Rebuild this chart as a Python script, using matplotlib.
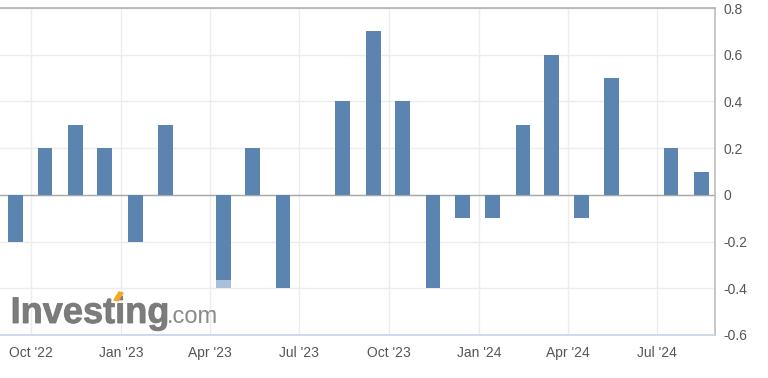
import matplotlib
matplotlib.use("Agg")
import matplotlib.pyplot as plt
import pandas as pd
from matplotlib.textpath import TextPath
from matplotlib.patches import PathPatch
from matplotlib.font_manager import FontProperties
from matplotlib.transforms import Affine2D

plt.rcParams['font.family'] = ['Liberation Sans', 'DejaVu Sans']

months = pd.date_range('2022-09-01', '2024-08-01', freq='MS')
values = [-0.2, 0.2, 0.3, 0.2, -0.2, 0.3, 0.0, -0.4, 0.2, -0.4, 0.0, 0.4,
          0.7, 0.4, -0.4, -0.1, -0.1, 0.3, 0.6, -0.1, 0.5, 0.0, 0.2, 0.1]
# Apr '23: darker part of the bar (rest drawn lighter)
apr23_dark = -0.365

yticks = [0.8, 0.6, 0.4, 0.2, 0, -0.2, -0.4, -0.6]
ytick_labels = ['0.8', '0.6', '0.4', '0.2', '0', '-0.2', '-0.4', '-0.6']
xtick_dates = pd.to_datetime(['2022-10-01', '2023-01-01', '2023-04-01', '2023-07-01',
                              '2023-10-01', '2024-01-01', '2024-04-01', '2024-07-01'])
xtick_labels = ["Oct '22", "Jan '23", "Apr '23", "Jul '23",
                "Oct '23", "Jan '24", "Apr '24", "Jul '24"]

bar_col = '#5b84b1'
light_col = '#a9c0da'
W, H = 768, 378

fig = plt.figure(figsize=(7.68, 3.78), dpi=100)
ax = fig.add_axes([0.0, 1 - 335 / H, 715 / W, (335 - 8) / H])

centers = months + pd.Timedelta(days=14)
colors = [bar_col] * len(values)
apr_i = list(months).index(pd.Timestamp('2023-04-01'))
colors[apr_i] = light_col
ax.bar(centers, values, width=15, color=colors, zorder=3)
ax.bar(centers[apr_i], apr23_dark, width=15, color=bar_col, zorder=4)

ax.set_xlim(pd.Timestamp('2022-08-30'), pd.Timestamp('2024-08-29'))
ax.set_ylim(-0.6, 0.8)

ax.set_yticks(yticks)
ax.set_yticklabels(ytick_labels)
ax.yaxis.tick_right()
ax.set_xticks(xtick_dates)
ax.set_xticklabels(xtick_labels)
ax.tick_params(axis='both', length=0, labelsize=10, colors='#555555')
ax.tick_params(axis='y', pad=6)
ax.tick_params(axis='x', pad=8)

ax.grid(True, color='#ececec', linewidth=1, zorder=0)
ax.axhline(0, color='#a8a8a8', linewidth=1, zorder=2)

ax.spines['left'].set_visible(False)
ax.spines['top'].set_color('#b5b5b5')
ax.spines['top'].set_linewidth(1.3)
ax.spines['right'].set_color('#bdbdbd')
ax.spines['right'].set_linewidth(1.2)
ax.spines['bottom'].set_color('#c3d4e8')
ax.spines['bottom'].set_linewidth(1.2)

# watermark: "Investing" squeezed to the logo's width
tp = TextPath((0, 0), 'Investing', size=100,
              prop=FontProperties(family='Liberation Sans', weight='bold'))
ext = tp.get_extents()
sx = 154 / ext.width
sy = 27 / 72.9
tr = (Affine2D().translate(-ext.x0, 0).scale(sx, sy).translate(13, H - 323)
      .scale(1 / W, 1 / H) + fig.transFigure)
fig.patches.append(PathPatch(tp, transform=tr, facecolor='#6e6e6e', edgecolor='#6e6e6e',
                             linewidth=0.6, alpha=0.9, zorder=5))
fig.text(167 / W, 1 - 323 / H, '.com', fontsize=17, color='#7d7d7d', va='baseline',
         alpha=0.9, zorder=5)
fig.patches.append(plt.Polygon([[114 / W, 1 - 300 / H], [119 / W, 1 - 292 / H],
                                [123 / W, 1 - 293 / H], [118 / W, 1 - 301 / H]],
                               closed=True, transform=fig.transFigure,
                               color='#f5a623', zorder=6))

fig.savefig('out.png', dpi=100)
